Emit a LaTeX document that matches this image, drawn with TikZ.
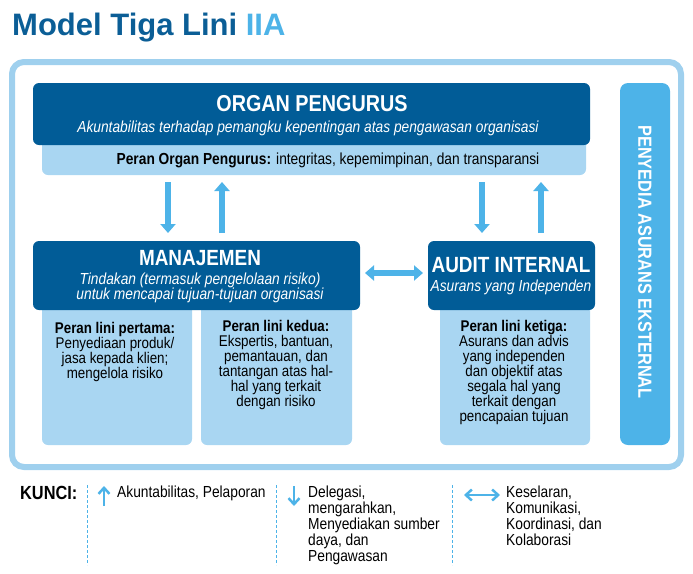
\documentclass[tikz,border=0pt]{standalone}
\usepackage{fontspec}
\setmainfont{Liberation Sans}[FakeStretch=0.86]
\newfontfamily\titlefont{Liberation Sans}
\usetikzlibrary{arrows.meta}
\definecolor{dk}{HTML}{015C97}
\definecolor{lt}{HTML}{A9D6F2}
\definecolor{md}{HTML}{4DB3E8}
\definecolor{fr}{HTML}{9FD0EE}
\definecolor{tt}{HTML}{0B5E96}
\begin{document}
\begin{tikzpicture}[x=1pt,y=-1pt,
 dark/.style={fill=dk,rounded corners=6pt},
 light/.style={fill=lt,rounded corners=6pt},
 arr/.style={draw=md,line width=5.5pt,-{Triangle[length=9pt,width=15pt]}},
 arr2/.style={draw=md,line width=5.5pt,{Triangle[length=9pt,width=15pt]}-{Triangle[length=9pt,width=15pt]}},
 karr/.style={draw=md,line width=2.5pt,-{Straight Barb[length=6pt,width=11pt]}},
 karr2/.style={draw=md,line width=2.5pt,{Straight Barb[length=6pt,width=11pt]}-{Straight Barb[length=6pt,width=11pt]}},
 body/.style={align=center,font=\fontsize{15.5}{15}\selectfont,anchor=north,inner sep=0},
 key/.style={align=left,font=\fontsize{16}{16}\selectfont,anchor=north west},
 sep/.style={draw=md,densely dashed,line width=0.6pt}]
\useasboundingbox (0,0) rectangle (693,573);
\node[anchor=base west,inner sep=0,text=tt,font=\fontsize{31}{34}\titlefont\bfseries\selectfont] (title) at (12,35) {Model Tiga Lini \textcolor{md}{IIA}};
\draw[draw=fr,line width=6pt,rounded corners=12pt] (12,62) rectangle (681,467);
% right bar
\fill[md,rounded corners=8pt] (620,83) rectangle (670,445);
\node[rotate=-90,text=white,font=\fontsize{19}{21}\bfseries\selectfont] (ext) at (645,262) {PENYEDIA ASURANS EKSTERNAL};
% organ
\fill[light] (42,135) rectangle (586,175);
\fill[dark] (33,83) rectangle (590,145);
\node[text=white,font=\fontsize{23}{25}\bfseries\selectfont] (og) at (312,104) {ORGAN PENGURUS};
\node[text=white,font=\fontsize{16}{18}\itshape\selectfont] (ogs) at (308,128) {Akuntabilitas terhadap pemangku kepentingan atas pengawasan organisasi};
\node[font=\fontsize{16}{18}\selectfont] (ogr) at (328,160) {\textbf{Peran Organ Pengurus:} integritas, kepemimpinan, dan transparansi};
% manajemen
\fill[light] (42,300) rectangle (192,445);
\fill[light] (201,300) rectangle (352,445);
\fill[dark] (33,241) rectangle (360,310);
\node[text=white,font=\fontsize{22}{24}\bfseries\selectfont] (mj) at (200,258) {MANAJEMEN};
\node[text=white,align=center,font=\fontsize{16}{15.5}\itshape\selectfont] (mjs) at (200,288) {Tindakan (termasuk pengelolaan risiko)\\untuk mencapai tujuan-tujuan organisasi};
\node[body] (l1) at (115,322) {\textbf{Peran lini pertama:}\\Penyediaan produk/\\jasa kepada klien;\\mengelola risiko};
\node[body] (l2) at (276,320) {\textbf{Peran lini kedua:}\\Ekspertis, bantuan,\\pemantauan, dan\\tantangan atas hal-\\hal yang terkait\\dengan risiko};
% audit
\fill[light] (440,300) rectangle (590,445);
\fill[dark] (428,241) rectangle (595,310);
\node[text=white,font=\fontsize{22}{24}\bfseries\selectfont] (ai) at (511,265) {AUDIT INTERNAL};
\node[text=white,font=\fontsize{16}{18}\itshape\selectfont] (ais) at (511,287) {Asurans yang Independen};
\node[body] (l3) at (514,320) {\textbf{Peran lini ketiga:}\\Asurans dan advis\\yang independen\\dan objektif atas\\segala hal yang\\terkait dengan\\pencapaian tujuan};
% arrows
\coordinate (a1) at (168,182); \coordinate (a2) at (168,233);
\coordinate (b1) at (222,233); \coordinate (b2) at (222,182);
\coordinate (c1) at (482,182); \coordinate (c2) at (482,233);
\coordinate (d1) at (541,233); \coordinate (d2) at (541,182);
\coordinate (e1) at (365,273); \coordinate (e2) at (423,273);
\draw[arr] (a1) -- (a2);
\draw[arr] (b1) -- (b2);
\draw[arr] (c1) -- (c2);
\draw[arr] (d1) -- (d2);
\draw[arr2] (e1) -- (e2);
% key
\node[anchor=north west,inner sep=0,font=\fontsize{19}{21}\bfseries\selectfont] (kunci) at (20,486) {KUNCI:};
\coordinate (s1a) at (87,485); \coordinate (s1b) at (87,565);
\coordinate (s2a) at (276,485); \coordinate (s2b) at (276,565);
\coordinate (s3a) at (452,485); \coordinate (s3b) at (452,565);
\draw[sep] (s1a) -- (s1b); \draw[sep] (s2a) -- (s2b); \draw[sep] (s3a) -- (s3b);
\coordinate (k1a) at (104,506); \coordinate (k1b) at (104,486);
\coordinate (k2a) at (294,486); \coordinate (k2b) at (294,506);
\coordinate (k3a) at (464,495); \coordinate (k3b) at (500,495);
\draw[karr] (k1a) -- (k1b);
\draw[karr] (k2a) -- (k2b);
\draw[karr2] (k3a) -- (k3b);
\node[key,inner sep=0] (t1) at (117,486) {Akuntabilitas, Pelaporan};
\node[key,inner sep=0] (t2) at (308,486) {Delegasi,\\mengarahkan,\\Menyediakan sumber\\daya, dan\\Pengawasan};
\node[key,inner sep=0] (t3) at (506,486) {Keselaran,\\Komunikasi,\\Koordinasi, dan\\Kolaborasi};
\end{tikzpicture}
\end{document}
